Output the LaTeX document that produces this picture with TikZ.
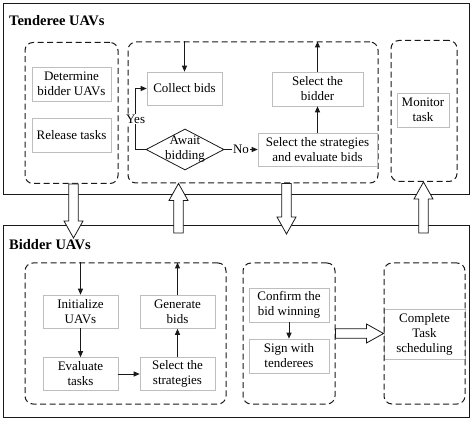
\documentclass[tikz,border=0pt]{standalone}
\usepackage{fontspec}
\setmainfont{Liberation Serif}
\usetikzlibrary{calc,arrows.meta,shapes.geometric}
\definecolor{LineColor}{RGB}{25,25,25}
\definecolor{BoxColor}{RGB}{190,190,190}

\begin{document}
\begin{tikzpicture}[x=1pt,y=-1pt,every text node part/.style={align=center},
  every node/.style={font=\fontsize{13}{15}\selectfont},
  frame/.style={draw=LineColor, line width=1pt},
  heading/.style={font=\fontsize{14.5}{17}\selectfont\bfseries, anchor=west, inner sep=0pt},
  groupbox/.style={draw=LineColor, dash pattern=on 6pt off 3.5pt, line width=1pt, rounded corners=8pt, minimum height=141pt},
  stepbox/.style={draw=BoxColor, line width=0.6pt, inner sep=1pt, minimum height=34pt},
  decision/.style={diamond, draw=LineColor, line width=0.8pt, minimum width=78pt, minimum height=41pt, inner sep=0pt},
  flow/.style={draw=LineColor, line width=1pt, -{Triangle[length=6pt,width=5pt]}},
  fatarrow/.style={draw=LineColor, fill=white, line width=0.8pt,
    to path={let \p1=($(\tikztotarget)-(\tikztostart)$),
      \n1={veclen(\x1,\y1)}, \n2={atan2(\y1,\x1)} in
      {[shift={(\tikztostart)}, rotate=\n2]
        (0pt,-4.75pt) -- (\n1-17pt,-4.75pt) -- (\n1-17pt,-9.5pt) -- (\n1,0pt)
        -- (\n1-17pt,9.5pt) -- (\n1-17pt,4.75pt) -- (0pt,4.75pt) -- cycle}}}]

  \useasboundingbox (0,0) rectangle (474,422);

  % Tenderee UAVs
  \draw[frame] (3,4) rectangle (469,195);
  \node[heading] (tenderee) at (9,21) {Tenderee UAVs};
  \node[groupbox, minimum width=93pt] (tb1) at (71.5,113) {};
  \node[groupbox, minimum width=250pt] (tb2) at (253,112.5) {};
  \node[groupbox, minimum width=66pt] (tb3) at (424,111) {};

  \node[stepbox, minimum width=79pt] (determine) at (71.5,84) {Determine\\bidder UAVs};
  \node[stepbox, minimum width=79pt] (release) at (71.5,135.5) {Release tasks};
  \node[stepbox, minimum width=75pt, minimum height=33pt] (collect) at (184.5,88.5) {Collect bids};
  \node[decision, label={[align=center]center:Await\\bidding}] (await) at (185,149.5) {};
  \node[stepbox, minimum width=119pt, minimum height=33pt] (strategies) at (317.5,149.5) {Select the strategies\\and evaluate bids};
  \node[stepbox, minimum width=91pt] (bidder) at (317.5,89) {Select the\\bidder};
  \node[stepbox, minimum width=52pt] (monitor) at (423,110) {Monitor\\task};

  \draw[flow] (collect.north |- tb2.north) -- (collect);
  \draw[flow] (await.west) -- ++(-10,0) |- node[pos=0.25, fill=white, inner sep=1pt] (yes) {Yes} (collect.west);
  \draw[flow] (await.east) -- node[fill=white, inner sep=1pt] (no) {No} (strategies.west);
  \draw[flow] (strategies) -- (bidder);
  \draw[flow] (bidder) -- (bidder.north |- tb2.north);

  % Bidder UAVs
  \draw[frame] (3,226) rectangle (469,417);
  \node[heading] (bidders) at (9,245) {Bidder UAVs};
  \node[groupbox, minimum width=201pt] (bb1) at (125.5,333.5) {};
  \node[groupbox, minimum width=92pt] (bb2) at (289,333.5) {};
  \node[stepbox, minimum width=81pt, minimum height=50pt] (complete) at (424.5,334) {Complete\\Task\\scheduling};
  \node[groupbox, minimum width=81pt] (bb3) at (424.5,333.5) {};

  \node[stepbox, minimum width=75pt, minimum height=33pt] (init) at (80.5,311.5) {Initialize\\UAVs};
  \node[stepbox, minimum width=75pt, minimum height=33pt] (evaluate) at (80.5,374) {Evaluate\\tasks};
  \node[stepbox, minimum width=75pt, minimum height=33pt] (generate) at (177.5,312) {Generate\\bids};
  \node[stepbox, minimum width=75pt, minimum height=33pt] (select) at (177.5,374) {Select the\\strategies};
  \node[stepbox, minimum width=80pt] (confirm) at (289,305) {Confirm the\\bid winning};
  \node[stepbox, minimum width=80pt] (sign) at (289,356) {Sign with\\tenderees};

  \draw[flow] (init.north |- bb1.north) -- (init);
  \draw[flow] (init) -- (evaluate);
  \draw[flow] (evaluate) -- (select);
  \draw[flow] (select) -- (generate);
  \draw[flow] (generate) -- (generate.north |- bb1.north);
  \draw[flow] (confirm) -- (sign);

  % hollow arrows between the two sides
  \coordinate (dnA) at (73.5,238);
  \coordinate (upB) at (178.5,233);
  \coordinate (dnC) at (286.5,234);
  \coordinate (upD) at (423.5,233);
  \draw[fatarrow] (dnA |- tb1.south) to (dnA);
  \draw[fatarrow] (upB) to (upB |- tb2.south);
  \draw[fatarrow] (dnC |- tb2.south) to (dnC);
  \draw[fatarrow] (upD) to (upD |- tb3.south);
  \draw[fatarrow] (bb2.east) to (bb3.west);

\end{tikzpicture}
\end{document}
